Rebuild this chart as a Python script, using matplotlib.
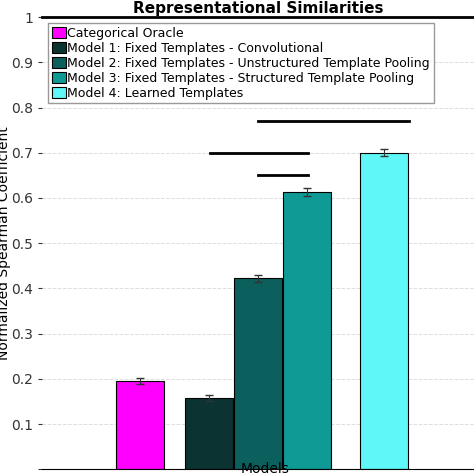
import numpy as np
import matplotlib
matplotlib.use("Agg")
import matplotlib.pyplot as plt

labels = ["Categorical Oracle",
          "Model 1: Fixed Templates - Convolutional",
          "Model 2: Fixed Templates - Unstructured Template Pooling",
          "Model 3: Fixed Templates - Structured Template Pooling",
          "Model 4: Learned Templates"]
values = [0.195, 0.158, 0.422, 0.613, 0.700]
errors = [0.007, 0.007, 0.007, 0.008, 0.008]
colors = ["#ff00ff", "#0a3332", "#0b5f5d", "#0f9a96", "#5ff7f7"]
xpos = [0, 1.44, 2.46, 3.48, 5.08]
# significance bars: (x start, x end, height)
sig = [(1.46, 3.5, 0.70), (2.46, 3.5, 0.65), (2.46, 5.6, 0.77)]

fig = plt.figure(figsize=(4.74, 4.74), dpi=100)
ax = fig.add_axes([0.089, 0.01, 0.911, 0.954])
for x, v, e, c, l in zip(xpos, values, errors, colors, labels):
    ax.bar(x, v, width=1.0, color=c, edgecolor="black", linewidth=0.8,
           yerr=e, capsize=3, error_kw=dict(elinewidth=0.8, ecolor="#333333"), label=l)
for x0, x1, h in sig:
    ax.plot([x0, x1], [h, h], color="black", lw=2)

ax.set_xlim(-2.04, 6.96)
ax.set_ylim(0, 1)
ax.set_yticks(np.arange(0, 1.01, 0.1))
ax.set_yticklabels(["", "0.1", "0.2", "0.3", "0.4", "0.5", "0.6", "0.7", "0.8", "0.9", "1"])
ax.set_xticks([])
ax.grid(axis="y", ls="--", color="#dddddd", lw=0.7)
ax.set_axisbelow(True)
ax.spines["right"].set_visible(False)
ax.spines["top"].set_linewidth(2)
ax.spines["left"].set_visible(False)
ax.tick_params(axis="y", labelsize=10, colors="#333333", length=3)
ax.set_ylabel("Normalized Spearman Coefficient", fontsize=10, labelpad=0)
fig.text(0.56, -0.005, "Models", fontsize=10, ha="center", va="bottom")
ax.set_title("Representational Similarities", fontsize=11, fontweight="bold", pad=3)
ax.legend(loc="upper left", fontsize=9.0, handlelength=1.1, handleheight=1.0,
          handletextpad=0.1, borderaxespad=0.5, labelspacing=0.15, borderpad=0.3,
          framealpha=1, edgecolor="#999999", fancybox=False)
fig.savefig("out.png", dpi=100)
